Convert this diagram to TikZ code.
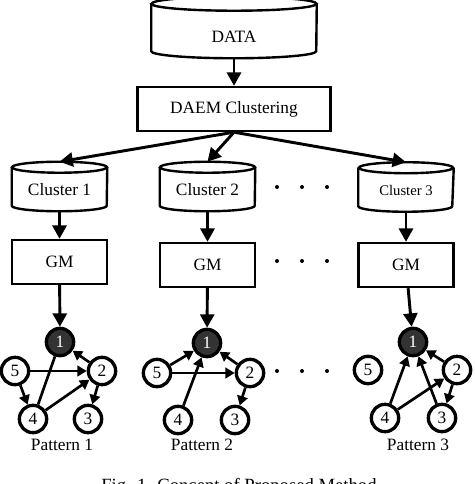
\documentclass[tikz,border=0pt]{standalone}
\usepackage{fontspec}
\setmainfont{Liberation Serif}
\usetikzlibrary{arrows.meta,calc}

% outline of a can round a node: node, half width, y radius
\newcommand{\canoutline}[3]{%
  \draw [line width=1.8pt] ($(#1.north west)+(0,#3)$) -- ($(#1.south west)+(0,-#3)$) arc [start angle=180,end angle=0,x radius=#2,y radius=#3] -- ($(#1.north east)+(0,#3)$) ;
  \draw [line width=1.8pt] ($(#1.north)+(0,#3)$) ellipse [x radius=#2,y radius=#3] ;
}

\begin{document}
\begin{tikzpicture}[x=0.75pt,y=0.75pt,yscale=-1,xscale=1,
  box/.style={draw,line width=1.8pt,minimum width=71.25pt,minimum height=33pt,inner sep=0pt,font=\fontsize{13}{15}\selectfont},
  can/.style={minimum width=71.25pt,minimum height=36.75pt,inner sep=0pt,text height=14pt,text depth=0pt,font=\fontsize{13}{15}\selectfont},
  vtx/.style={circle,draw,line width=2.5pt,minimum size=20.5pt,inner sep=0pt,fill=white,font=\fontsize{13}{15}\selectfont},
  root/.style={vtx,fill={rgb, 255:red, 51; green, 51; blue, 51},text=white},
  flow/.style={line width=2.2pt,-{Triangle[width=10.5pt,length=10pt]}},
  link/.style={line width=2pt,-{Triangle[width=8pt,length=7pt]}},
  plain/.style={line width=2pt}]
\useasboundingbox (0,0) rectangle (474,484);
\clip (0,0) rectangle (474,484);

%Shape: Can [DATA]
\node [can,minimum width=123.75pt,minimum height=45.75pt,text height=23pt] (data) at (234,27.5) {DATA};
\canoutline{data}{82.5}{7}
%Shape: Rectangle [DAEM]
\node [box,minimum width=144.75pt] (daem) at (234,109) {DAEM Clustering};

%Shape: Can [clusters]
\node [can] (c1) at (59.5,186.5) {Cluster 1};
\canoutline{c1}{47.5}{5.5}
\node [can] (c2) at (207.5,186.5) {Cluster 2};
\canoutline{c2}{47.5}{5.5}
\node [can,font=\fontsize{11}{13}\selectfont,text height=13pt] (c3) at (406,187) {Cluster 3};
\canoutline{c3}{47}{5.5}

%Shape: Rectangle [GM]
\node [box] (g1) at (59.5,262) {GM};
\node [box] (g2) at (207.5,265) {GM};
\node [box] (g3) at (406,265) {GM};

% Arrows
\draw [flow] (data) -- (daem) ;
\draw [flow] (daem.south) -- (c1.north) ;
\draw [flow] (daem.south) -- (c2.north) ;
\draw [flow] (daem.south) -- (c3.north) ;
\draw [flow] (c1) -- (g1) ;
\draw [flow] (c2) -- (g2) ;
\draw [flow] (c3) -- (g3) ;

%Shape: Graph [pattern 1]
\node [root] (u1) at (60,342) {1};
\node [vtx] (u2) at (102,371) {2};
\node [vtx] (u3) at (88,419) {3};
\node [vtx] (u4) at (33,419) {4};
\node [vtx] (u5) at (15,371) {5};
\draw [flow] (g1) -- (u1) ;
\draw [link] (u2) -- (u1) ;
\draw [link] (u5) -- (u2) ;
\draw [link] (u5) -- (u4) ;
\draw [plain] (u4) -- (u1) ;
\draw [link] (u4) -- (u2) ;
\draw [link] (u2) -- (u3) ;

%Shape: Graph [pattern 2]
\node [root] (v1) at (207,343) {1};
\node [vtx] (v2) at (250,373) {2};
\node [vtx] (v3) at (235,420) {3};
\node [vtx] (v4) at (178,420) {4};
\node [vtx] (v5) at (157,373) {5};
\draw [flow] (g2) -- (v1) ;
\draw [link] (v5) -- (v1) ;
\draw [link] (v2) -- (v1) ;
\draw [link] (v5) -- (v2) ;
\draw [link] (v4) -- (v1) ;
\draw [link] (v2) -- (v3) ;

%Shape: Graph [pattern 3]
\node [root] (w1) at (413,342) {1};
\node [vtx] (w2) at (457,370) {2};
\node [vtx] (w3) at (442,418) {3};
\node [vtx] (w4) at (385,418) {4};
\node [vtx] (w5) at (368,370) {5};
\draw [flow] (g3) -- (w1) ;
\draw [link] (w2) -- (w1) ;
\draw [link] (w4) -- (w1) ;
\draw [link] (w3) -- (w1) ;
\draw [link] (w4) -- (w2) ;
\draw [link] (w2) -- (w3) ;

%Shape: Dots
\foreach \y in {187,261,371}
  \foreach \x in {277,302,327}
    \fill (\x,\y) circle (2) ;

% Text Node
\node [font=\fontsize{13}{15}\selectfont] (lab1) at (62,445) {Pattern 1};
\node [font=\fontsize{13}{15}\selectfont] (lab2) at (202,445) {Pattern 2};
\node [font=\fontsize{13}{15}\selectfont] (lab3) at (418,445) {Pattern 3};
\node [font=\fontsize{14}{16}\selectfont] (cap) at (239,487) {Fig. 1. Concept of Proposed Method};

\end{tikzpicture}
\end{document}
